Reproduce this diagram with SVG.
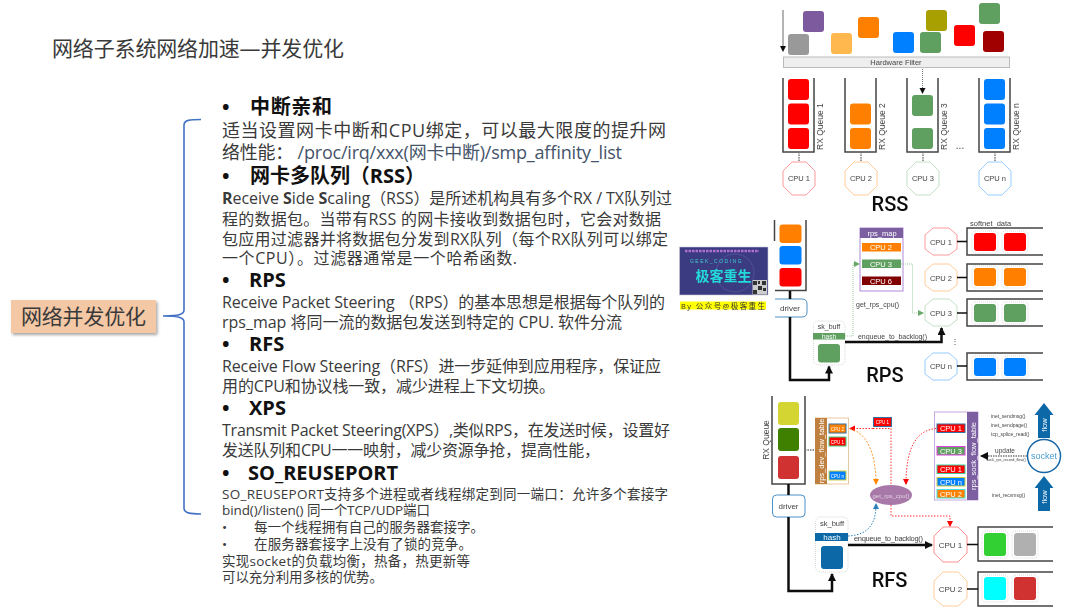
<svg xmlns="http://www.w3.org/2000/svg" xmlns:xlink="http://www.w3.org/1999/xlink" width="1080" height="610" viewBox="0 0 1080 610">
<style>
text{font-family:"Open Sans","Noto Sans CJK SC","Liberation Sans",sans-serif;fill:#3a3a3a}
.h{font-size:20px;font-weight:700;fill:#111}
.b{font-size:18px}
.m{font-size:16px}
.s{font-size:13.5px}
.dg{font-family:"Liberation Sans",sans-serif;fill:#444}
.big{font-family:Roboto,"Liberation Sans",sans-serif;font-size:20px;font-weight:500;fill:#111;text-anchor:middle}
.c{text-anchor:middle}
.w{fill:#fff;font-family:"Liberation Sans",sans-serif}
.wall{fill:none;stroke:#444;stroke-width:1.5}
.thick{fill:none;stroke:#111;stroke-width:2.5}
.dash{fill:none;stroke:#777;stroke-width:1.5;stroke-dasharray:1.5 1}
.oct{fill:#fff;stroke-width:1}
.frame{fill:none;stroke:#ccc;stroke-width:.7;stroke-dasharray:1 1}
.soft{filter:url(#soft)}
</style>
<defs>
<marker id="ak" markerWidth="8" markerHeight="8" refX="5" refY="3" orient="auto" markerUnits="userSpaceOnUse"><path d="M0 0L6 3L0 6Z" fill="#111"/></marker>
<marker id="ab" markerWidth="12" markerHeight="10" refX="7" refY="4" orient="auto" markerUnits="userSpaceOnUse"><path d="M0 0L8 4L0 8Z" fill="#111"/></marker>
<marker id="ag" markerWidth="8" markerHeight="8" refX="5" refY="3" orient="auto" markerUnits="userSpaceOnUse"><path d="M0 0L6 3L0 6Z" fill="#6aa86a"/></marker>
<marker id="ar" markerWidth="8" markerHeight="8" refX="5" refY="3" orient="auto" markerUnits="userSpaceOnUse"><path d="M0 0L6 3L0 6Z" fill="#f00"/></marker>
<marker id="ao" markerWidth="8" markerHeight="8" refX="5" refY="3" orient="auto" markerUnits="userSpaceOnUse"><path d="M0 0L6 3L0 6Z" fill="#f80"/></marker>
<marker id="an" markerWidth="8" markerHeight="8" refX="5" refY="3" orient="auto" markerUnits="userSpaceOnUse"><path d="M0 0L6 3L0 6Z" fill="#2a80b8"/></marker>
<filter id="sh" x="-10%" y="-20%" width="125%" height="150%"><feDropShadow dx="1.5" dy="2" stdDeviation="1.5" flood-color="#000" flood-opacity=".35"/></filter>
<filter id="soft" x="0" y="0" width="1080" height="610" filterUnits="userSpaceOnUse"><feGaussianBlur stdDeviation=".35"/></filter>
<path id="arrowup" d="M0 0L9.5 12H6V35H-6V12H-9.5Z" fill="#0868a8"/>
</defs>

<g id="title"><text x="52" y="56" font-size="21" textLength="292">网络子系统网络加速—并发优化</text></g>

<g id="root-node">
<rect x="11" y="300" width="145" height="33" fill="#f4c7a5" filter="url(#sh)"/>
<text x="21" y="324" font-size="21" textLength="125">网络并发优化</text>
</g>
<g id="brace"><path d="M201 119.500C190 119.500 184 120 184 125V310C184 314 180 316 163 316C180 316 184 318 184 322V508C184 513 190 514 201 514" fill="none" stroke="#4472c4" stroke-width="1.6"/></g>

<g id="text-affinity">
<text class="h" x="222" y="114">•</text><text class="h" x="250" y="114" textLength="82">中断亲和</text>
<text class="b" x="222" y="137" textLength="444">适当设置网卡中断和CPU绑定&#xFF0C;可以最大限度的提升网</text>
<text class="b" x="222" y="159" textLength="400">络性能&#xFF1A;<tspan fill="#44546a"> /proc/irq/xxx(网卡中断)/smp_affinity_list</tspan></text>
</g>
<g id="text-rss">
<text class="h" x="222" y="183">•</text><text class="h" x="250" y="183" textLength="175">网卡多队列&#xFF08;RSS&#xFF09;</text>
<text class="m" x="222" y="204" textLength="450"><tspan font-weight="700">R</tspan>eceive <tspan font-weight="700">S</tspan>ide <tspan font-weight="700">S</tspan>caling&#xFF08;RSS&#xFF09;是所述机构具有多个RX / TX队列过</text>
<text class="m" x="222" y="225" textLength="439">程的数据包。当带有RSS 的网卡接收到数据包时&#xFF0C;它会对数据</text>
<text class="m" x="222" y="245" textLength="446">包应用过滤器并将数据包分发到RX队列&#xFF08;每个RX队列可以绑定</text>
<text class="m" x="222" y="264" textLength="295">一个CPU&#xFF09;。过滤器通常是一个哈希函数.</text>
</g>
<g id="text-rps">
<text class="h" x="222" y="287">•</text><text class="h" x="249" y="287">RPS</text>
<text class="m" x="222" y="308" textLength="443">Receive Packet Steering &#xFF08;RPS&#xFF09;的基本思想是根据每个队列的</text>
<text class="m" x="222" y="328" textLength="400">rps_map 将同一流的数据包发送到特定的 CPU. 软件分流</text>
</g>
<g id="text-rfs">
<text class="h" x="222" y="351">•</text><text class="h" x="249" y="351">RFS</text>
<text class="m" x="222" y="372" textLength="439">Receive Flow Steering&#xFF08;RFS&#xFF09;进一步延伸到应用程序&#xFF0C;保证应</text>
<text class="m" x="222" y="392" textLength="333">用的CPU和协议栈一致&#xFF0C;减少进程上下文切换。</text>
</g>
<g id="text-xps">
<text class="h" x="222" y="415">•</text><text class="h" x="249" y="415">XPS</text>
<text class="m" x="222" y="436" textLength="448">Transmit Packet Steering(XPS&#xFF09;,类似RPS&#xFF0C;在发送时候&#xFF0C;设置好</text>
<text class="m" x="222" y="456" textLength="378">发送队列和CPU一一映射&#xFF0C;减少资源争抢&#xFF0C;提高性能&#xFF0C;</text>
</g>
<g id="text-reuseport">
<text class="h" x="222" y="480">•</text><text class="h" x="248" y="480">SO_REUSEPORT</text>
<text class="s" x="222" y="499" textLength="446">SO_REUSEPORT支持多个进程或者线程绑定到同一端口&#xFF1A;允许多个套接字</text>
<text class="s" x="222" y="515" textLength="208">bind()/listen() 同一个TCP/UDP端口</text>
<text class="s" x="222" y="532">•</text><text class="s" x="254" y="532" textLength="230">每一个线程拥有自己的服务器套接字。</text>
<text class="s" x="222" y="549">•</text><text class="s" x="254" y="549" textLength="218">在服务器套接字上没有了锁的竞争。</text>
<text class="s" x="222" y="566" textLength="248">实现socket的负载均衡&#xFF0C;热备&#xFF0C;热更新等</text>
<text class="s" x="222" y="582" textLength="161">可以充分利用多核的优势。</text>
</g>

<g id="logo" class="soft">
<rect x="679.500" y="247" width="88.500" height="48" fill="#3b3a82" stroke="#c8c8d8" stroke-width=".6"/>
<path d="M685 251H759" stroke="#b070d0" stroke-width="2.500" stroke-dasharray="2.500 1" fill="none"/>
<circle cx="735" cy="273" r="19" fill="none" stroke="#5c5ca0" stroke-width=".7"/>
<text class="c" x="716.500" y="263" font-size="5" letter-spacing="1.500" style="fill:#40d0d0;font-family:'Liberation Sans'">GEEK_CODING</text>
<text class="c" x="723.500" y="280.500" font-size="14" font-weight="700" style="fill:#22dbd8">极客重生</text>
<rect x="752.500" y="280" width="14.500" height="14.500" fill="#ccc"/>
<path d="M753 281h4v4h-4zM762 281h4v4h-4zM753 290h4v4h-4zM758 286h4v4h-4zM758 281h2v3h-2zM763 288h3v3h-3z" fill="#333"/>
<rect x="680" y="301.500" width="86" height="8" fill="#ff0"/>
<text x="681" y="308.500" font-size="7.500" textLength="84" style="fill:#333">By 公众号@极客重生</text>
</g>

<g id="rss" class="soft">
<g id="rss-packets">
<rect rx="3" x="803" y="11" width="21" height="21" fill="#7d5a9e"/>
<rect rx="3" x="788" y="34" width="21" height="21" fill="#999"/>
<rect rx="3" x="831" y="33" width="21" height="21" fill="#ffb84d"/>
<rect rx="3" x="858" y="17" width="21" height="21" fill="#ff8000"/>
<rect rx="3" x="893" y="32" width="21" height="21" fill="#007fff"/>
<rect rx="3" x="920" y="32" width="21" height="21" fill="#5f9f60"/>
<rect rx="3" x="926" y="10" width="21" height="21" fill="#a8a000"/>
<rect rx="3" x="954" y="25" width="21" height="21" fill="#f00"/>
<rect rx="3" x="979" y="3" width="21" height="21" fill="#5f9f60"/>
<rect rx="3" x="983" y="31" width="21" height="21" fill="#a00000"/>
</g>
<g id="rss-filter"><rect x="783.500" y="57" width="226" height="10.500" fill="#eee" stroke="#bbb"/><text class="dg c" x="896" y="65" font-size="7.500">Hardware Filter</text></g>
<g id="rss-q1"><path class="wall" d="M783 78V152H814V78"/>
<rect rx="3" x="788" y="79" width="21" height="21" fill="#f00"/><rect rx="3" x="788" y="103.500" width="21" height="21" fill="#f00"/><rect rx="3" x="788" y="128" width="21" height="21" fill="#f00"/>
<text class="dg" transform="translate(823 150) rotate(-90)" font-size="8.500">RX Queue 1</text></g>
<g id="rss-q2"><path class="wall" d="M845 78V152H876V78"/>
<rect rx="3" x="850" y="103.500" width="21" height="21" fill="#ff8000"/><rect rx="3" x="850" y="128" width="21" height="21" fill="#ff8000"/>
<text class="dg" transform="translate(885 150) rotate(-90)" font-size="8.500">RX Queue 2</text></g>
<g id="rss-q3"><path class="wall" d="M907 78V152H938V78"/>
<rect rx="3" x="912" y="95" width="21" height="21" fill="#5f9f60"/><rect rx="3" x="912" y="128" width="21" height="21" fill="#5f9f60"/>
<text class="dg" transform="translate(947 150) rotate(-90)" font-size="8.500">RX Queue 3</text></g>
<g id="rss-qn"><path class="wall" d="M979 78V152H1010V78"/>
<rect rx="3" x="984" y="79" width="21" height="21" fill="#007fff"/><rect rx="3" x="984" y="103.500" width="21" height="21" fill="#007fff"/><rect rx="3" x="984" y="128" width="21" height="21" fill="#007fff"/>
<text class="dg" transform="translate(1019 150) rotate(-90)" font-size="8.500">RX Queue n</text></g>
<text class="dg c" x="960" y="149" font-size="10">...</text>
<g id="rss-cpu1"><polygon class="oct" stroke="#ff9a9a" points="792,162 806,162 815,171 815,186 806,195 792,195 783,186 783,171"/><text class="dg c" x="799" y="181" font-size="7.500">CPU 1</text></g>
<g id="rss-cpu2"><polygon class="oct" stroke="#ffcc99" points="854,162 868,162 877,171 877,186 868,195 854,195 845,186 845,171"/><text class="dg c" x="861" y="181" font-size="7.500">CPU 2</text></g>
<g id="rss-cpu3"><polygon class="oct" stroke="#c5e0c5" points="916,162 930,162 939,171 939,186 930,195 916,195 907,186 907,171"/><text class="dg c" x="923" y="181" font-size="7.500">CPU 3</text></g>
<g id="rss-cpun"><polygon class="oct" stroke="#99ccff" points="988,162 1002,162 1011,171 1011,186 1002,195 988,195 979,186 979,171"/><text class="dg c" x="995" y="181" font-size="7.500">CPU n</text></g>
<text class="big" x="890" y="211">RSS</text>
</g>

<g id="rps" class="soft">
<g id="rps-queue"><path class="wall" d="M774.500 220V241M806 220V290.500H775"/>
<rect rx="3" x="779.500" y="224.500" width="22" height="18.500" fill="#ff8000"/><rect rx="3" x="779.500" y="246" width="22" height="18.500" fill="#007fff"/><rect rx="3" x="779.500" y="268" width="22" height="18.500" fill="#f00"/></g>
<g id="rps-driver"><path d="M775 299H802Q807 299 807 304V312Q807 317 802 317H775" fill="#fff" stroke="#4a90c0"/><text class="dg c" x="790" y="311" font-size="8">driver</text></g>
<g id="rps-skbuff"><rect x="813.500" y="321" width="31.500" height="44" rx="5" fill="#fff" stroke="#ccc" stroke-width=".8" stroke-dasharray="1 1"/>
<text class="dg c" x="829" y="329" font-size="7">sk_buff</text>
<rect x="813" y="333" width="32" height="6.500" fill="#5f9f60"/><text class="c w" x="829" y="338.500" font-size="6.500">hash</text>
<rect rx="3" x="818" y="344" width="22" height="18.500" fill="#5f9f60"/></g>
<g id="rps-map"><rect x="860" y="228" width="43" height="63" fill="#fff" stroke="#b08ad8"/><rect x="860" y="228" width="43" height="10" fill="#7b5ea0"/>
<text class="c w" x="882" y="236" font-size="7.500">rps_map</text>
<rect x="862" y="243" width="39" height="8.500" fill="#ff8000"/><text class="c w" x="881" y="250" font-size="7.500">CPU 2</text>
<rect x="862" y="259.500" width="39" height="8.500" fill="#5f9f60"/><text class="c w" x="881" y="266.500" font-size="7.500">CPU 3</text>
<rect x="862" y="276.500" width="39" height="8.500" fill="#800000"/><text class="c w" x="881" y="283.500" font-size="7.500">CPU 6</text></g>
<text class="dg" x="856" y="307" font-size="7">get_rps_cpu()</text>
<text class="dg" x="858" y="339" font-size="7" textLength="69">enqueue_to_backlog()</text>
<text class="dg" x="970" y="226" font-size="7.500">softnet_data</text>
<g id="rps-cpu1"><polygon class="oct" stroke="#ff9a9a" points="933,228 949,228 957,235 957,249 949,255 933,255 925,249 925,235"/><text class="dg c" x="941" y="244.500" font-size="7.500">CPU 1</text></g>
<g id="rps-cpu2"><polygon class="oct" stroke="#ffcc99" points="933,264 949,264 957,271 957,285 949,291 933,291 925,285 925,271"/><text class="dg c" x="941" y="280.500" font-size="7.500">CPU 2</text></g>
<g id="rps-cpu3"><polygon class="oct" stroke="#c5e0c5" points="933,299 949,299 957,306 957,320 949,326 933,326 925,320 925,306"/><text class="dg c" x="941" y="316" font-size="7.500">CPU 3</text></g>
<g id="rps-cpun"><polygon class="oct" stroke="#99ccff" points="933,353 949,353 957,360 957,374 949,380 933,380 925,374 925,360"/><text class="dg c" x="941" y="369" font-size="7.500">CPU n</text></g>
<text class="dg c" x="955" y="344" font-size="8">⋮</text>
<g id="rps-backlog1"><path class="wall" d="M1043 228H967V255H1043"/><rect class="frame" x="972" y="231" width="26" height="22" rx="3"/><rect class="frame" x="1002" y="231" width="26" height="22" rx="3"/><rect rx="3" x="974" y="233" width="22" height="18" fill="#f00"/><rect rx="3" x="1004" y="233" width="22" height="18" fill="#f00"/></g>
<g id="rps-backlog2"><path class="wall" d="M1043 264H967V291H1043"/><rect class="frame" x="972" y="266" width="26" height="22" rx="3"/><rect class="frame" x="1002" y="266" width="26" height="22" rx="3"/><rect rx="3" x="974" y="268" width="22" height="18" fill="#ff8000"/><rect rx="3" x="1004" y="268" width="22" height="18" fill="#ff8000"/></g>
<g id="rps-backlog3"><path class="wall" d="M1043 299H967V326H1043"/><rect class="frame" x="972" y="302" width="26" height="22" rx="3"/><rect class="frame" x="1002" y="302" width="26" height="22" rx="3"/><rect rx="3" x="974" y="304" width="22" height="18" fill="#5f9f60"/><rect rx="3" x="1004" y="304" width="22" height="18" fill="#5f9f60"/></g>
<g id="rps-backlogn"><path class="wall" d="M1043 353H967V380H1043"/><rect class="frame" x="972" y="356" width="26" height="22" rx="3"/><rect class="frame" x="1002" y="356" width="26" height="22" rx="3"/><rect rx="3" x="974" y="358" width="22" height="18" fill="#007fff"/><rect rx="3" x="1004" y="358" width="22" height="18" fill="#007fff"/></g>
<text class="big" x="885" y="382">RPS</text>
</g>

<g id="rfs" class="soft">
<g id="rfs-queue"><path class="wall" d="M772 396V484H805V396"/>
<rect rx="3" x="778" y="402" width="21" height="23" fill="#d4d430"/><rect rx="3" x="778" y="428" width="21" height="23" fill="#408000"/><rect rx="3" x="778" y="456" width="21" height="23" fill="#d03030"/>
<text class="dg c" transform="translate(769 440) rotate(-90)" font-size="8.500">RX Queue</text></g>
<g id="rfs-driver"><rect x="772.500" y="495" width="32.500" height="22" rx="4" fill="#fff" stroke="#4a90c8"/><text class="dg c" x="788.500" y="509" font-size="8">driver</text></g>
<g id="rfs-skbuff"><rect x="815.500" y="517" width="32.500" height="55" rx="5" fill="#fff" stroke="#ccc" stroke-width=".8" stroke-dasharray="1 1"/>
<text class="dg c" x="832" y="526" font-size="7.500">sk_buff</text>
<rect x="815" y="533" width="33" height="8" fill="#0868a8"/><text class="c w" x="832" y="540" font-size="8">hash</text>
<rect rx="3" x="821" y="546" width="22" height="23" fill="#0868a8"/></g>
<g id="rfs-dev-table"><rect x="815.500" y="418" width="33" height="66" fill="#fff" stroke="#e8c8a0"/><rect x="815" y="418" width="12" height="66" fill="#c08040"/>
<text class="c w" transform="translate(824 451) rotate(-90)" font-size="7.500">rps_dev_flow_table</text>
<rect x="829" y="424" width="17" height="9" fill="#ff8000" stroke="#3070a0"/><text class="c w" x="837.500" y="430.500" font-size="4.500">CPU 2</text>
<rect x="829" y="437" width="17" height="9" fill="#f00" stroke="#40d080"/><text class="c w" x="837.500" y="443.500" font-size="4.500">CPU 1</text>
<rect x="829" y="471" width="17" height="9" fill="#007fff" stroke="#d0d040"/><text class="c w" x="837.500" y="477.500" font-size="4.500">CPU n</text></g>
<g id="rfs-cpu-tag"><rect x="873.500" y="417.500" width="18" height="9" fill="#f00" stroke="#3070a0"/><text class="c w" x="882.500" y="424" font-size="4.500">CPU 1</text></g>
<g id="rfs-get-cpu"><ellipse cx="891" cy="495" rx="21" ry="10" fill="#a878a8"/><text class="c" x="891" y="497.500" font-size="6" style="font-family:'Liberation Sans';fill:#e0d0e0">get_rps_cpu()</text></g>
<text class="dg" x="854" y="541" font-size="7.500" textLength="69">enqueue_to_backlog()</text>
<g id="rfs-sock-table"><rect x="934.500" y="412" width="43.500" height="88" fill="#fff" stroke="#c8a8e0"/><rect x="967" y="412" width="11" height="88" fill="#7b5ea0"/>
<text class="c w" transform="translate(975.500 456) rotate(-90)" font-size="7.500">rps_sock_flow_table</text>
<rect x="937" y="424" width="28" height="8.500" fill="#f00" stroke="#3070a0"/><text class="c w" x="951" y="431" font-size="7.500">CPU 1</text>
<rect x="937" y="446.500" width="28" height="8.500" fill="#5f9f60" stroke="#e040e0"/><text class="c w" x="951" y="453.500" font-size="7.500">CPU 3</text>
<rect x="937" y="465" width="28" height="8.500" fill="#f00" stroke="#40d0a0"/><text class="c w" x="951" y="472" font-size="7.500">CPU 1</text>
<rect x="937" y="477.500" width="28" height="8.500" fill="#007fff" stroke="#d0d040"/><text class="c w" x="951" y="484.500" font-size="7.500">CPU n</text>
<rect x="937" y="489.500" width="28" height="8.500" fill="#ff8000" stroke="#40e0e0"/><text class="c w" x="951" y="496.500" font-size="7.500">CPU 2</text></g>
<text class="dg c" x="1005" y="453" font-size="6.500">update</text>
<text class="dg c" x="1006" y="461" font-size="3.800">sock_rps_record_flow()</text>
<text class="dg" x="991" y="418" font-size="5">inet_sendmsg()</text>
<text class="dg" x="991" y="427" font-size="5">inet_sendpage()</text>
<text class="dg" x="991" y="435.500" font-size="5">tcp_splice_read()</text>
<text class="dg" x="992" y="497" font-size="5">inet_recvmsg()</text>
<g id="rfs-socket"><circle cx="1044" cy="456" r="16.500" fill="#fff" stroke="#1868a8" stroke-width="1.500"/><text class="c" x="1044" y="459" font-size="9" style="font-family:'Liberation Sans';fill:#4a9cd0">socket</text></g>
<g id="rfs-flow-up"><use xlink:href="#arrowup" href="#arrowup" x="1044" y="403"/><text class="c w" transform="translate(1047 425) rotate(-90)" font-size="7.500">flow</text></g>
<g id="rfs-flow-down"><use xlink:href="#arrowup" href="#arrowup" x="1044" y="476"/><text class="c w" transform="translate(1047 497) rotate(-90)" font-size="7.500">flow</text></g>
<g id="rfs-cpu1"><polygon class="oct" stroke="#ff9090" points="943,527 958,527 967,536 967,553 958,562 943,562 934,553 934,536"/><text class="dg c" x="950.500" y="547.500" font-size="8">CPU 1</text></g>
<g id="rfs-cpu2"><polygon class="oct" stroke="#ffcc99" points="943,572 958,572 967,581 967,598 958,606 943,606 934,598 934,581"/><text class="dg c" x="950.500" y="592" font-size="8">CPU 2</text></g>
<g id="rfs-backlog1"><path class="wall" d="M1053 527H978V561H1053"/><rect class="frame" x="982" y="531" width="26" height="27" rx="3"/><rect class="frame" x="1012" y="531" width="26" height="27" rx="3"/><rect rx="3" x="984" y="533" width="22" height="23" fill="#30d030"/><rect rx="3" x="1014" y="533" width="22" height="23" fill="#b0b0b0"/></g>
<g id="rfs-backlog2"><path class="wall" d="M1053 572H978V606H1053"/><rect class="frame" x="982" y="575" width="26" height="27" rx="3"/><rect class="frame" x="1012" y="575" width="26" height="27" rx="3"/><rect rx="3" x="984" y="577" width="22" height="23" fill="#0ff"/><rect rx="3" x="1014" y="577" width="22" height="23" fill="#d03030"/></g>
<text class="big" x="889.500" y="587">RFS</text>
</g>

<g id="connectors" class="soft">
<path d="M783 10V51" fill="none" stroke="#444" stroke-width=".8" marker-end="url(#ak)"/>
<path d="M922.500 69V93" fill="none" stroke="#555" stroke-width=".8" stroke-dasharray="1 1" marker-end="url(#ak)"/>
<path class="dash" d="M799 152V162M861 152V162M923 152V162M995 152V162"/>
<path class="thick" d="M790 291V299M790 317V380H829V366.500" marker-end="url(#ab)"/>
<path class="thick" d="M845 342H941.500V328" marker-end="url(#ab)"/>
<path d="M845 336H853V264H859" fill="none" stroke="#8cc08c" stroke-width=".8" stroke-dasharray="1 1" marker-end="url(#ag)"/>
<path d="M901 264H912.500V313H923" fill="none" stroke="#8cc08c" stroke-width=".8" stroke-dasharray="1 1" marker-end="url(#ag)"/>
<path d="M957 241.500H967M957 277.500H967M957 313H967M957 366H967M967 544.500H978M967 589H978" stroke="#111" stroke-width="1.500" fill="none"/>
<path class="dash" d="M805 450H814"/>
<path class="thick" d="M788.500 484V495M788.500 517V591H832V574" marker-end="url(#ab)"/>
<path class="thick" d="M848 545H932" marker-end="url(#ab)"/>
<path d="M873 428.500H850" fill="none" stroke="#f33" stroke-width="1" stroke-dasharray="1.500 1.500" marker-end="url(#ar)"/>
<path d="M873 428.500H891V485M891 505V516H950V526" fill="none" stroke="#f33" stroke-width="1" stroke-dasharray="1.500 1.500" marker-end="url(#ar)"/>
<path d="M936 428.500C918 430 906 445 906 484" fill="none" stroke="#f33" stroke-width="1" stroke-dasharray="1.500 1.500" marker-end="url(#ar)"/>
<path d="M850 429C865 432 876 450 876 484" fill="none" stroke="#f93" stroke-width="1" stroke-dasharray="2 1.500" marker-end="url(#ao)"/>
<path d="M848 536C870 535 876 522 876 504" fill="none" stroke="#2a80b8" stroke-width="1" stroke-dasharray="1.500 1.500" marker-end="url(#an)"/>
<path d="M1027 456H981" fill="none" stroke="#777" stroke-width="1.500" stroke-dasharray="1.500 1" marker-end="url(#ab)"/>
</g>
</svg>
